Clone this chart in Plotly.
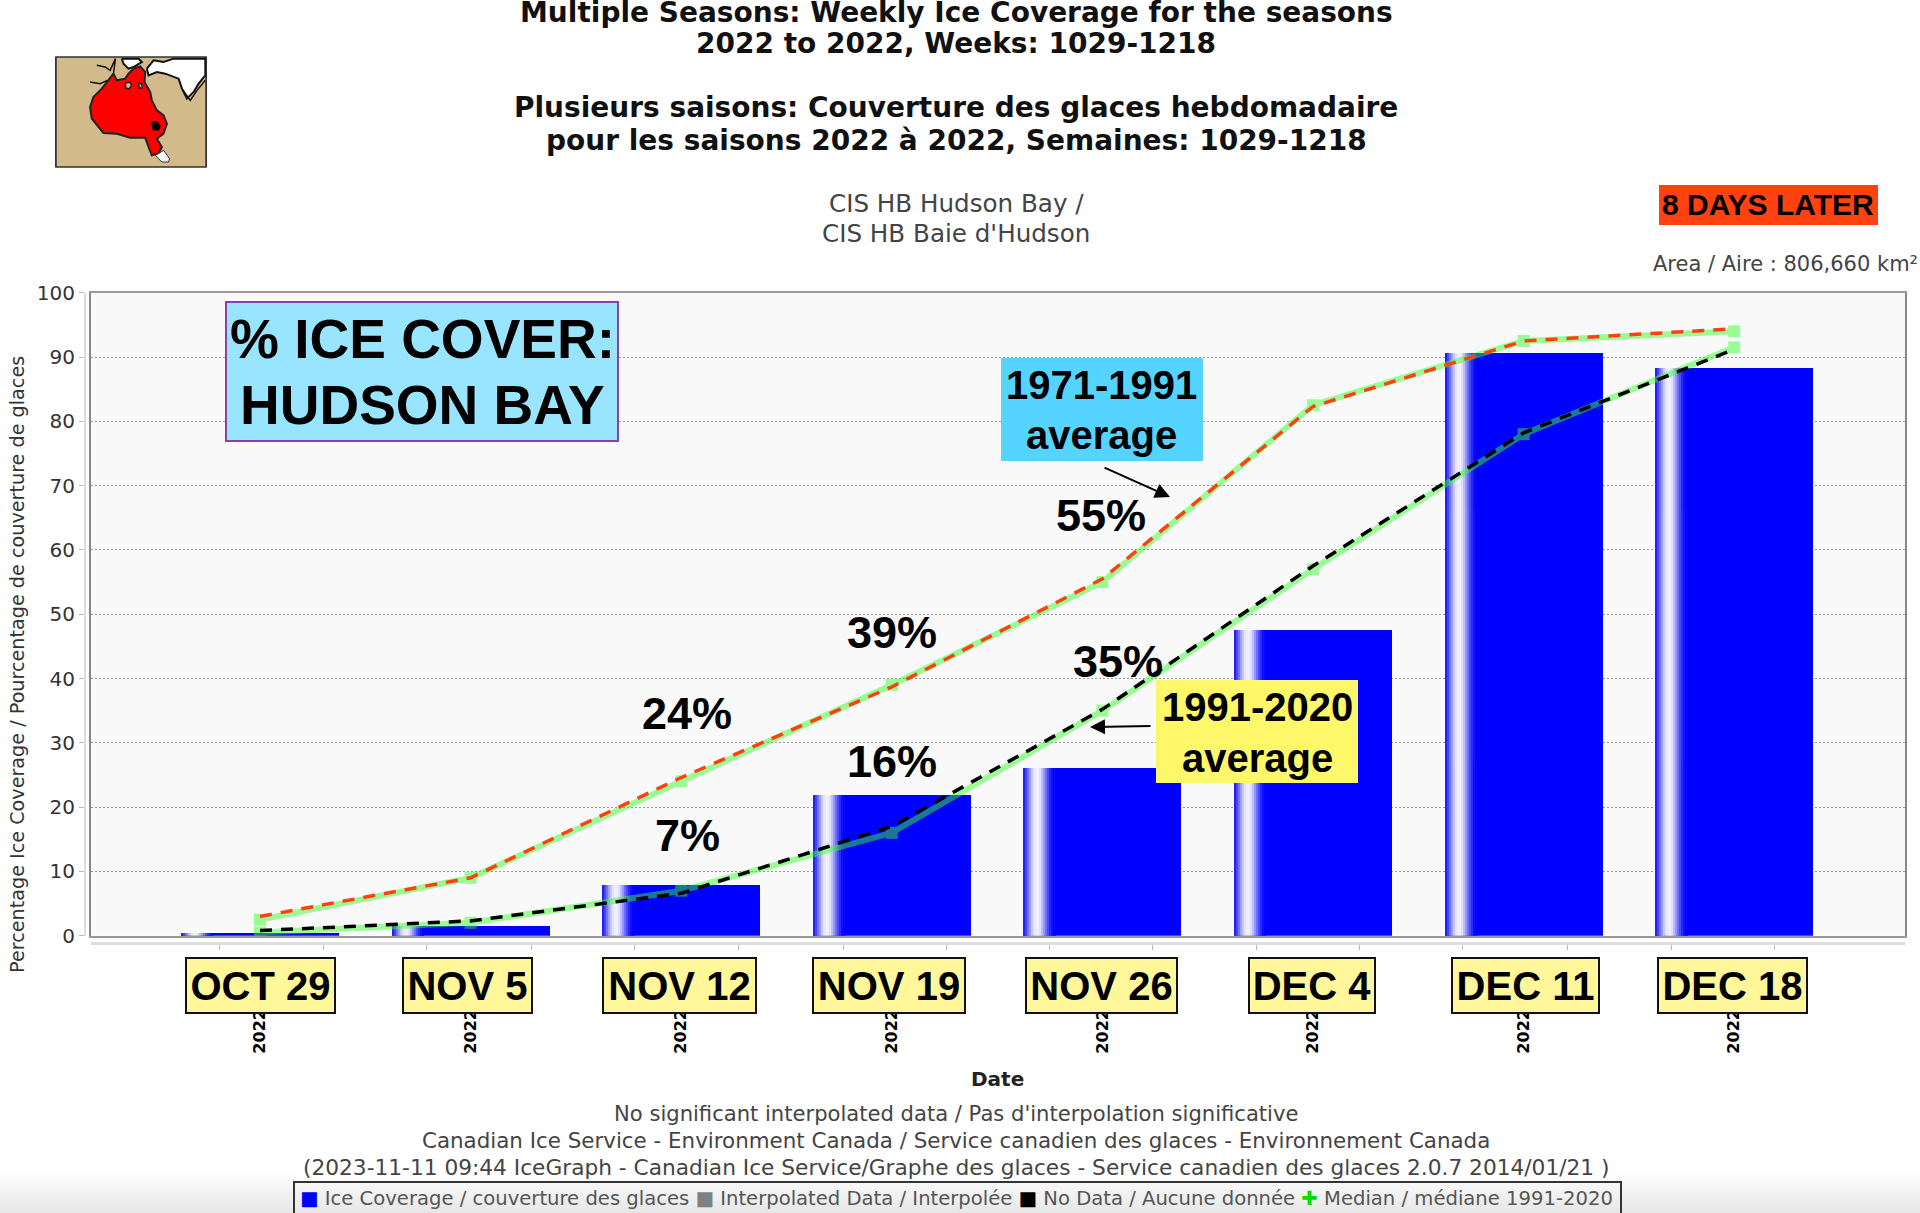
import plotly.graph_objects as go

W, H = 1920, 1213

# Chart data
date_labels = ["OCT 29", "NOV 5", "NOV 12", "NOV 19", "NOV 26", "DEC 4", "DEC 11", "DEC 18"]
year_labels = ["<b>2022</b>"] * 8
ice_coverage = [0.5, 1.5, 7.9, 22.0, 26.2, 47.6, 90.6, 88.3]
median_early = [2.5, 9.0, 24.0, 39.0, 55.0, 82.5, 92.5, 94.0]
median_recent = [0.5, 2.0, 7.0, 16.0, 35.0, 57.0, 78.0, 91.5]
trace_early = [3.0, 9.0, 24.6, 38.7, 55.5, 82.3, 92.5, 94.4]
trace_recent = [0.8, 2.3, 6.6, 17.0, 35.2, 57.5, 78.2, 91.2]
y_ticks = list(range(0, 101, 10))
minor_date_ticks = [-0.19, 0.30, 0.79, 1.29, 1.78, 2.27, 2.77, 3.26, 3.75, 4.24,
                    4.73, 5.22, 5.71, 6.21, 6.70, 7.19]
tag_widths = [151, 131, 155, 154, 153, 128, 149, 151]
tag_shifts = [0, -3, -2, -3, -1, -1, 2, -2]
xs = list(range(len(date_labels)))

# Hudson Bay thumbnail outlines
bay_x = [250, 270, 285, 283, 300, 305, 320, 340, 350, 340, 320, 335, 325, 305, 295, 285, 240, 200, 160, 150, 125, 120,
         130, 155, 175, 190, 200, 225, 235, 250]
bay_y = [55, 48, 65, 95, 125, 150, 180, 195, 220, 250, 265, 290, 310, 315, 290, 262, 262, 250, 248, 235, 205, 170,
         140, 115, 90, 70, 90, 85, 70, 55]
east_x = [290, 310, 340, 370, 465, 465, 445, 430, 410, 395, 385, 345, 320, 295, 290]
east_y = [55, 30, 35, 25, 25, 75, 100, 125, 145, 115, 85, 70, 65, 75, 55]
strait_x = [215, 265, 275, 250, 235, 220, 215]
strait_y = [25, 25, 35, 50, 55, 40, 25]
tip_x = [325, 340, 358, 355, 335, 315, 325]
tip_y = [310, 300, 325, 335, 335, 315, 310]
spot_x = [305, 322, 330, 325, 308, 305]
spot_y = [215, 215, 228, 240, 238, 215]
isle_a_x = [226, 240, 244, 236, 226, 226]
isle_a_y = [98, 96, 106, 116, 112, 98]
isle_b_x = [264, 274, 276, 268, 264]
isle_b_y = [98, 100, 112, 114, 98]
inlet_a_x = [120, 150, 172]
inlet_a_y = [95, 100, 90]
inlet_b_x = [140, 165, 180, 190, 196, 190]
inlet_b_y = [45, 50, 60, 40, 25, 70]
inlet_c_x = [395, 405, 420, 440, 465]
inlet_c_y = [115, 130, 150, 120, 90]

# Bar highlight profile: offset from the bar's left edge (px) and shade
band_offsets = list(range(0, 32, 2))
band_shades = [32, 70, 115, 160, 200, 228, 238, 238, 222, 190, 150, 110, 72, 40, 16, 4]

PX = 210.6  # pixels per category


def px(x):
    return x / W


def py(y):
    return 1 - y / H


fig = go.Figure()

bar_w = 158 / PX
fig.add_trace(go.Bar(x=xs, y=ice_coverage, width=bar_w, marker=dict(color="#0000ff", line_width=0),
                     showlegend=False))
for off, shade in zip(band_offsets, band_shades):
    fig.add_trace(go.Bar(x=xs, y=ice_coverage, width=2.3 / PX, offset=-bar_w / 2 + off / PX,
                         marker=dict(color=f"rgb({shade},{shade},255)", line_width=0), showlegend=False))

for series in (median_early, median_recent):
    fig.add_trace(go.Scatter(x=xs, y=series, mode="lines+markers", opacity=0.48,
                             line=dict(color="rgb(50,255,40)", width=6),
                             marker=dict(symbol="square", size=12, color="rgb(50,255,40)"),
                             showlegend=False))

fig.add_trace(go.Scatter(x=xs, y=trace_early, mode="lines", showlegend=False,
                         line=dict(color="#ff4010", width=3.5, dash="12px,9px")))
fig.add_trace(go.Scatter(x=xs, y=trace_recent, mode="lines", showlegend=False,
                         line=dict(color="#000000", width=3.5, dash="12px,9px")))

# Carrier for the offset tick rulers
fig.add_trace(go.Scatter(x=[0], y=[0], xaxis="x3", yaxis="y3", mode="markers",
                         marker=dict(opacity=0), showlegend=False, hoverinfo="skip"))

# Thumbnail map
map_axes = dict(xaxis="x2", yaxis="y2", mode="lines", fill="toself", showlegend=False, hoverinfo="skip")
for mx, my, fill, edge, lw in [(east_x, east_y, "#ffffff", "#111", 2),
                               (strait_x, strait_y, "#ffffff", "#111", 2),
                               (bay_x, bay_y, "#ff0000", "#222", 2),
                               (tip_x, tip_y, "#ffffff", "#333", 1),
                               (isle_a_x, isle_a_y, "#d2ba8a", "#222", 1.5),
                               (isle_b_x, isle_b_y, "#d2ba8a", "#222", 1.5),
                               (spot_x, spot_y, "#000000", "#000", 1)]:
    fig.add_trace(go.Scatter(x=mx, y=my, fillcolor=fill, line=dict(color=edge, width=lw), **map_axes))
for mx, my in [(inlet_a_x, inlet_a_y), (inlet_b_x, inlet_b_y), (inlet_c_x, inlet_c_y)]:
    fig.add_trace(go.Scatter(x=mx, y=my, xaxis="x2", yaxis="y2", mode="lines", showlegend=False, hoverinfo="skip",
                             line=dict(color="#111", width=1.5)))

plot_x = [px(91), px(1905)]
plot_y = [py(935.7), py(292.7)]
x_range = [-0.8025, 7.811]
y_range = [0, 100]

shapes = []
# Soft grey fade along the foot of the page
for i in range(22):
    top = 1170 + i * 2
    g = 255 - int(i * 1.2)
    shapes.append(dict(type="rect", xref="paper", yref="paper", layer="below", line_width=0,
                       x0=0, x1=1, y0=py(min(top + 2.5, H)), y1=py(top), fillcolor=f"rgb({g},{g},{g})"))


def box(x0, y0, x1, y1, fill, line=None, lw=2):
    shapes.append(dict(type="rect", xref="paper", yref="paper", x0=px(x0), x1=px(x1), y0=py(y1), y1=py(y0),
                       fillcolor=fill, line=dict(color=line or fill, width=lw if line else 0)))


box(226, 302, 618, 441, "#99e5ff", "#8a3fb0", 2)
box(1001, 358, 1203, 461, "#54d4ff")
box(1156, 680, 1358, 783, "#fff76a")
box(1659, 185, 1878, 225, "#ff4210")
# Legend frame
shapes.append(dict(type="rect", xref="paper", yref="paper", x0=px(294), x1=px(1621), y0=py(1216), y1=py(1182),
                   line=dict(color="#333", width=2)))

annotations = []


def text(x, y, s, size, color="#000", font="Liberation Sans", bold=False, anchor="center"):
    label = f"<b>{s}</b>" if bold else s
    annotations.append(dict(xref="paper", yref="paper", x=px(x), y=py(y), text=label, showarrow=False,
                            xanchor=anchor, yanchor="middle", font=dict(family=font, size=size, color=color)))


# Headings
TITLE_FONT = "DejaVu Sans"
for y, s in [(13, "Multiple Seasons: Weekly Ice Coverage for the seasons"),
             (43, "2022 to 2022, Weeks: 1029-1218"),
             (107, "Plusieurs saisons: Couverture des glaces hebdomadaire"),
             (141, "pour les saisons 2022 à 2022, Semaines: 1029-1218")]:
    text(956, y, s, 28, "#111", TITLE_FONT, True)
text(956, 204, "CIS HB Hudson Bay /", 24.6, "#444", TITLE_FONT)
text(956, 233, "CIS HB Baie d'Hudson", 24.6, "#444", TITLE_FONT)
text(1651, 264, "Area / Aire : 806,660 km²", 21, "#444", TITLE_FONT, anchor="left")

# Call-outs
text(422, 339, "% ICE COVER:", 55, bold=True)
text(422, 405, "HUDSON BAY", 55, bold=True)
text(1101, 385, "1971-1991", 40, bold=True)
text(1101, 435, "average", 40, bold=True)
text(1257, 707, "1991-2020", 40, bold=True)
text(1257, 758, "average", 40, bold=True)
text(1768, 205, "8 DAYS LATER", 30, bold=True)
for x, y, s in [(1101, 515, "55%"), (892, 632, "39%"), (687, 713, "24%"),
                (892, 761, "16%"), (687, 835, "7%"), (1118, 662, "35%")]:
    text(x, y, s, 45, bold=True)

# Date tags under the bars
for i, (lab, w, dx) in enumerate(zip(date_labels, tag_widths, tag_shifts)):
    annotations.append(dict(xref="x", yref="paper", x=i, xshift=dx, y=py(985), text=f"<b>{lab}</b>", showarrow=False,
                            xanchor="center", yanchor="middle", width=w - 4, height=53, bgcolor="#fff799",
                            bordercolor="#111", borderwidth=2, borderpad=0,
                            font=dict(family="Liberation Sans", size=40, color="#000")))

# Arrows
for x0, y0, x1, y1 in [(1103, 467, 1170, 497), (1152, 726, 1090, 727)]:
    annotations.append(dict(xref="paper", yref="paper", x=px(x1), y=py(y1),
                            ax=x0 - x1, ay=y0 - y1, text="", showarrow=True, arrowhead=2, arrowsize=1.5,
                            arrowwidth=2, arrowcolor="#000"))

# Axis captions and footer
annotations.append(dict(xref="paper", yref="paper", x=px(17), y=py(665), textangle=-90, showarrow=False,
                        xanchor="center", yanchor="middle",
                        text="Percentage Ice Coverage / Pourcentage de couverture de glaces",
                        font=dict(family=TITLE_FONT, size=19.2, color="#333")))
text(997, 1079, "Date", 20, "#222", TITLE_FONT, True)
text(956, 1113, "No significant interpolated data / Pas d'interpolation significative", 21.1, "#444", TITLE_FONT)
text(956, 1140, "Canadian Ice Service - Environment Canada / Service canadien des glaces - Environnement Canada",
     21.4, "#444", TITLE_FONT)
text(956, 1167, "(2023-11-11 09:44 IceGraph - Canadian Ice Service/Graphe des glaces - "
     "Service canadien des glaces 2.0.7 2014/01/21 )", 21.7, "#444", TITLE_FONT)
text(298, 1198,
     '<span style="color:#0000ff">■</span> Ice Coverage / couverture des glaces '
     '<span style="color:#808080">■</span> Interpolated Data / Interpolée '
     '<span style="color:#000000">■</span> No Data / Aucune donnée '
     '<span style="color:#00dd00">✚</span> Median / médiane 1991-2020',
     19.6, "#555", TITLE_FONT, anchor="left")

fig.update_layout(
    width=W, height=H, autosize=False, margin=dict(l=0, r=0, t=0, b=0),
    paper_bgcolor="#ffffff", plot_bgcolor="#f9f9f9", barmode="overlay", bargap=0,
    shapes=shapes, annotations=annotations,
    xaxis=dict(domain=plot_x, range=x_range, tickmode="array", tickvals=xs, ticktext=year_labels, tickangle=-90,
               ticks="", ticklabelstandoff=65, tickfont=dict(family="DejaVu Sans", size=16, color="#000"),
               automargin=False,
               showline=True, linecolor="#999", linewidth=2, mirror=True, showgrid=False, zeroline=False),
    yaxis=dict(domain=plot_y, range=y_range, tickmode="array", tickvals=y_ticks, showticklabels=False, ticks="",
               automargin=False,
               showgrid=True, gridcolor="#999", griddash="2px,2px", gridwidth=1,
               showline=True, linecolor="#888", linewidth=2, mirror=True, zeroline=False),
    xaxis3=dict(domain=plot_x, range=x_range, overlaying="x", anchor="free", position=py(943), tickmode="array",
                tickvals=minor_date_ticks, showticklabels=False, ticks="outside", ticklen=5, tickcolor="#bbb",
                automargin=False,
                showline=True, linecolor="#ddd", linewidth=3, showgrid=False, zeroline=False),
    yaxis3=dict(domain=plot_y, range=y_range, overlaying="y", anchor="free", position=px(85), tickmode="array",
                tickvals=y_ticks, ticks="outside", ticklen=5, tickcolor="#bbb", automargin=False,
                tickfont=dict(family="DejaVu Sans", size=20, color="#333"),
                showline=True, linecolor="#ddd", linewidth=2, showgrid=False, zeroline=False),
    xaxis2=dict(domain=[px(56), px(206)], range=[18, 467], anchor="y2", visible=False, fixedrange=True,
                automargin=False),
    yaxis2=dict(domain=[py(167), py(57)], range=[350, 20], anchor="x2", showgrid=False, zeroline=False,
                showticklabels=False, ticks="", showline=True, linecolor="#333", linewidth=1, mirror=True,
                fixedrange=True, automargin=False),
)
# Tan land behind the map
fig.add_shape(type="rect", xref="paper", yref="paper", x0=px(56), x1=px(206), y0=py(167), y1=py(57),
              fillcolor="#d2ba8a", line=dict(color="#333", width=1.5), layer="below")

fig.write_html("out.html")
